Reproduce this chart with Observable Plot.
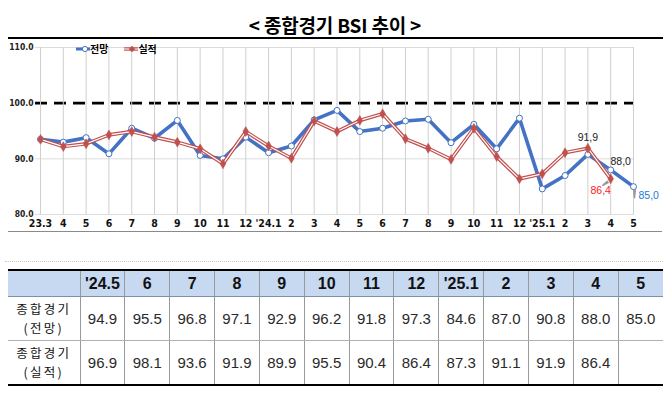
<!DOCTYPE html>
<html><head><meta charset="utf-8">
<script src="https://cdn.jsdelivr.net/npm/d3@7"></script>
<script src="https://cdn.jsdelivr.net/npm/@observablehq/plot@0.6"></script>
<style>
body{margin:0;background:#fff;}
#wrap{position:relative;width:670px;height:394px;overflow:hidden;background:#fff;}
#title{position:absolute;left:0;top:13px;width:670px;text-align:center;font:bold 19px "Noto Sans CJK KR",sans-serif;line-height:24px;color:#000;letter-spacing:-0.2px;}
#rule1{position:absolute;left:8px;top:37px;width:655px;height:2px;background:#000;}
#chart{position:absolute;left:0;top:40px;}
#legend{position:absolute;left:76px;top:41px;font:bold 10px "Noto Sans CJK KR",sans-serif;display:flex;align-items:center;gap:16px;color:#000;}
#legend span{display:inline-flex;align-items:center;}
#rule2{position:absolute;left:8px;top:231px;width:654px;height:0;border-top:1.5px solid #8a8a8a;}
#rule3{position:absolute;left:5px;top:261px;width:658px;height:0;border-top:1px dotted #c8c8c8;}
#tbl{position:absolute;left:8px;top:269px;border-collapse:collapse;table-layout:fixed;width:655px;}
#tbl td,#tbl th{border-left:1px solid #9a9a9a;border-right:1px solid #9a9a9a;text-align:center;padding:0;}
#tbl tr:first-child th{background:#c6d9f1;height:25px;font:bold 16px "Liberation Sans",Arial,sans-serif;color:#111;border-top:2px solid #000;border-bottom:1.5px solid #7f8fa6;}
#tbl td{height:43px;font:15px "Liberation Sans",Arial,sans-serif;color:#2a2a2a;border-bottom:1px solid #b0b0b0;}
#tbl tr:last-child td{border-bottom:2px solid #000;}
#tbl td.rh{font:12.5px "Noto Sans CJK KR",sans-serif;letter-spacing:2.3px;color:#111;}
#tbl td.rh div{height:18.3px;line-height:18.3px;}
#tbl th:first-child,#tbl td:first-child{border-left:none;}
#tbl th:last-child,#tbl td:last-child{border-right:none;}
</style></head>
<body><div id="wrap">
<div id="title">&lt; 종합경기 BSI 추이 &gt;</div>
<div id="rule1"></div>
<div id="chart"></div>
<div id="legend"></div>
<div id="rule2"></div>
<div id="rule3"></div>
<table id="tbl"></table>
</div>
<script>
// ---- data ----
const months = ["23.3","4","5","6","7","8","9","10","11","12","'24.1","2","3","4","5","6","7","8","9","10","11","12","'25.1","2","3","4","5"];
const outlook = [93.5,93.0,93.8,90.9,95.5,93.7,96.9,90.6,90.0,93.9,91.1,92.3,97.0,98.7,94.9,95.5,96.8,97.1,92.9,96.2,91.8,97.3,84.6,87.0,90.8,88.0,85.0];
const actual  = [93.5,92.2,92.7,94.3,94.9,93.9,93.0,91.8,89.1,94.9,92.3,90.1,96.8,94.9,96.9,98.1,93.6,91.9,89.9,95.5,90.4,86.4,87.3,91.1,91.9,86.4];
const yTicks = [80,90,100,110];
const seriesNames = ["전망","실적"];
const tableHeader = ["'24.5","6","7","8","9","10","11","12","'25.1","2","3","4","5"];
const tableStart = 14; // index of '24.5 in months
const rowLabels = [["종합경기","(전망)"],["종합경기","(실적)"]];

const BLUE = "#4472c4", RED = "#c0504d";
const outData = outlook.map((v,i)=>({i,v}));
const actData = actual.map((v,i)=>({i,v}));
const fmt = v => v.toFixed(1).replace(".", ",");
const last = outlook.length - 1;
const lastA = actual.length - 1;

const narrow = `"Liberation Sans Narrow","DejaVu Sans Condensed",Arial,sans-serif`;
const lblFont = "Liberation Sans, Arial, sans-serif";

const plot = Plot.plot({
  width: 670, height: 195,
  marginLeft: 35, marginRight: 36, marginTop: 7, marginBottom: 21,
  x: {type:"linear", domain:[0, months.length-1], range:[40,633]},
  y: {domain:[80,110]},
  style: {fontFamily: narrow, background:"transparent"},
  marks: [
    Plot.ruleY([80,90,110], {stroke:"#dcdcdc", strokeWidth:1}),
    Plot.ruleY([100], {stroke:"#000", strokeWidth:2.6, strokeDasharray:"12,7"}),
    Plot.axisY(yTicks, {label:null, tickSize:0, tickPadding:2, tickFormat:d=>d.toFixed(1), fontSize:8.5, fontWeight:"bold", fill:"#222"}),
    Plot.axisX(d3.range(months.length), {label:null, tickSize:0, tickPadding:5, tickFormat:i=>months[i], fontSize:10.5, fontWeight:"bold", fill:"#111"}),
    Plot.tickX(d3.range(months.length), {x:d=>d, y1:80, y2:80.5, stroke:"#cfcfcf"}),
    // 전망
    Plot.line(outData, {x:"i", y:"v", stroke:BLUE, strokeWidth:3.6, strokeLinejoin:"round"}),
    Plot.dot(outData, {x:"i", y:"v", r:3, fill:"#fff", stroke:BLUE, strokeWidth:1}),
    // 실적 (double line)
    Plot.line(actData, {x:"i", y:"v", stroke:RED, strokeWidth:3.6, strokeLinejoin:"miter"}),
    Plot.line(actData, {x:"i", y:"v", stroke:"#fff", strokeWidth:1.2, strokeLinejoin:"miter"}),
    Plot.dot(actData, {x:"i", y:"v", symbol:"diamond", r:3, fill:RED, stroke:RED, strokeWidth:0.5}),
    // data labels
    Plot.text(actData.filter(d=>d.i===lastA-1), {x:"i", y:"v", text:d=>fmt(d.v), dy:-11, fontSize:10.5, fill:"#222", fontFamily:lblFont}),
    Plot.text(outData.filter(d=>d.i===last-1), {x:"i", y:"v", text:d=>fmt(d.v), dx:10, dy:-8, fontSize:10.5, fill:"#222", fontFamily:lblFont}),
    Plot.text(actData.filter(d=>d.i===lastA), {x:"i", y:"v", text:d=>fmt(d.v), dx:-10, dy:12, fontSize:10.5, fill:"#ff1a1a", fontFamily:lblFont}),
    Plot.text(outData.filter(d=>d.i===last), {x:"i", y:"v", text:d=>fmt(d.v), dx:5, dy:9, textAnchor:"start", fontSize:10.5, fill:"#1f7bd6", fontFamily:lblFont}),
    Plot.vector(actData.filter(d=>d.i===lastA), {x:"i", y:"v", length:6, rotate:235, anchor:"start", shape:"spike", r:0.8, stroke:"#999", fill:"#999", dx:-3, dy:3}),
    Plot.vector(outData.filter(d=>d.i===last), {x:"i", y:"v", length:8, rotate:180, anchor:"start", shape:"spike", r:0.8, stroke:"#999", fill:"#999", dx:1, dy:3}),
  ]
});
document.getElementById("chart").appendChild(plot);

// legend
const lg = document.getElementById("legend");
lg.innerHTML =
  `<span><svg width="14" height="8"><line x1="0" y1="4" x2="14" y2="4" stroke="${BLUE}" stroke-width="3"/><circle cx="9" cy="4" r="2.6" fill="#fff" stroke="${BLUE}" stroke-width="1"/></svg>${seriesNames[0]}</span>` +
  `<span><svg width="14" height="8"><line x1="0" y1="4" x2="14" y2="4" stroke="${RED}" stroke-width="3.4"/><line x1="0" y1="4" x2="14" y2="4" stroke="#fff" stroke-width="1.1"/><path d="M8,0.8 L11.2,4 L8,7.2 L4.8,4Z" fill="${RED}"/></svg>${seriesNames[1]}</span>`;

// table
const tbl = document.getElementById("tbl");
let html = `<colgroup><col style="width:72px">${tableHeader.map(()=>'<col>').join("")}</colgroup>`;
html += `<tr><th></th>${tableHeader.map(h=>`<th>${h}</th>`).join("")}</tr>`;
const rows = [outlook, actual];
rows.forEach((arr, r) => {
  html += `<tr><td class="rh"><div>${rowLabels[r][0]}</div><div>${rowLabels[r][1]}</div></td>`;
  tableHeader.forEach((h, k) => {
    const v = arr[tableStart + k];
    html += `<td>${v === undefined ? "" : v.toFixed(1)}</td>`;
  });
  html += `</tr>`;
});
tbl.innerHTML = html;
</script>
</body></html>
